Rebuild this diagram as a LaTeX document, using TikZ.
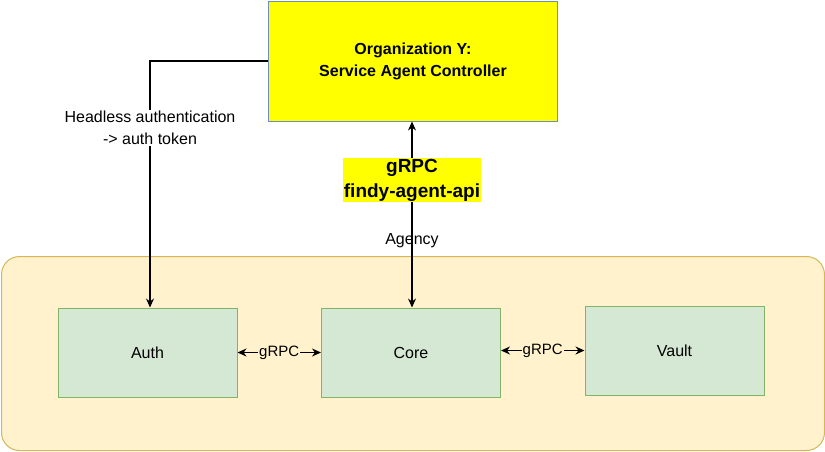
\documentclass[tikz,border=0pt]{standalone}
\usepackage{fontspec}
\setmainfont{Liberation Sans}
\usetikzlibrary{arrows.meta}
\definecolor{ctrlfill}{HTML}{FFFF00}
\definecolor{ctrlline}{HTML}{6C8EBF}
\definecolor{agfill}{HTML}{FFF2CC}
\definecolor{agline}{HTML}{D6B656}
\definecolor{gfill}{HTML}{D5E8D4}
\definecolor{gline}{HTML}{82B366}
\begin{document}
\begin{tikzpicture}[x=1pt,y=-1pt,
  tip/.style={Stealth[length=9pt,width=8pt]},
  svc/.style={draw=gline,fill=gfill,line width=1pt,minimum width=179pt,minimum height=89pt,font=\fontsize{16}{19}\selectfont},
  conn/.style={-{Stealth[length=9pt,width=8pt]},line width=1.2pt},
  dconn/.style={{Stealth[length=9pt,width=8pt]}-{Stealth[length=9pt,width=8pt]},line width=1.2pt},
  lbl/.style={font=\fontsize{16}{22}\selectfont,fill=white,inner sep=1pt,align=center},
  glbl/.style={fill=agfill,inner sep=1pt,font=\fontsize{15}{18}\selectfont}]
\useasboundingbox (0,0) rectangle (825,451);
\node[draw=agline,fill=agfill,line width=1pt,rounded corners=18pt,minimum width=823pt,minimum height=194pt,anchor=north west] (agency) at (1,256) {};
\node[font=\fontsize{16}{19}\selectfont] (aglbl) at (412,241) {Agency};
\node[draw=ctrlline,fill=ctrlfill,line width=1pt,minimum width=289pt,minimum height=120pt,anchor=north west,align=center,font=\bfseries\fontsize{16}{22}\selectfont] (ctrl) at (268,0.5) {Organization Y:\\Service Agent Controller};
\node[svc] (auth) at (147.5,352.5) {Auth};
\node[svc] (core) at (411,352.5) {Core};
\node[svc] (vault) at (674.5,350.5) {Vault};
\coordinate (bend) at (150,61);
\draw[conn] (ctrl.west |- bend) -- (bend) -- (auth.north -| bend);
\node[lbl] (hl) at (150,128) {Headless authentication\\-> auth token};
\draw[dconn] (core.north -| 412,0) -- (ctrl.south -| 412,0);
\node[font=\bfseries\fontsize{19}{25}\selectfont,fill=ctrlfill,inner sep=1pt,align=center] (g1) at (412,180) {gRPC\\findy-agent-api};
\draw[dconn] (auth.east) -- (core.west) node[midway,glbl] {gRPC};
\draw[dconn] (core.east |- vault) -- (vault.west) node[midway,glbl] {gRPC};
\end{tikzpicture}
\end{document}
